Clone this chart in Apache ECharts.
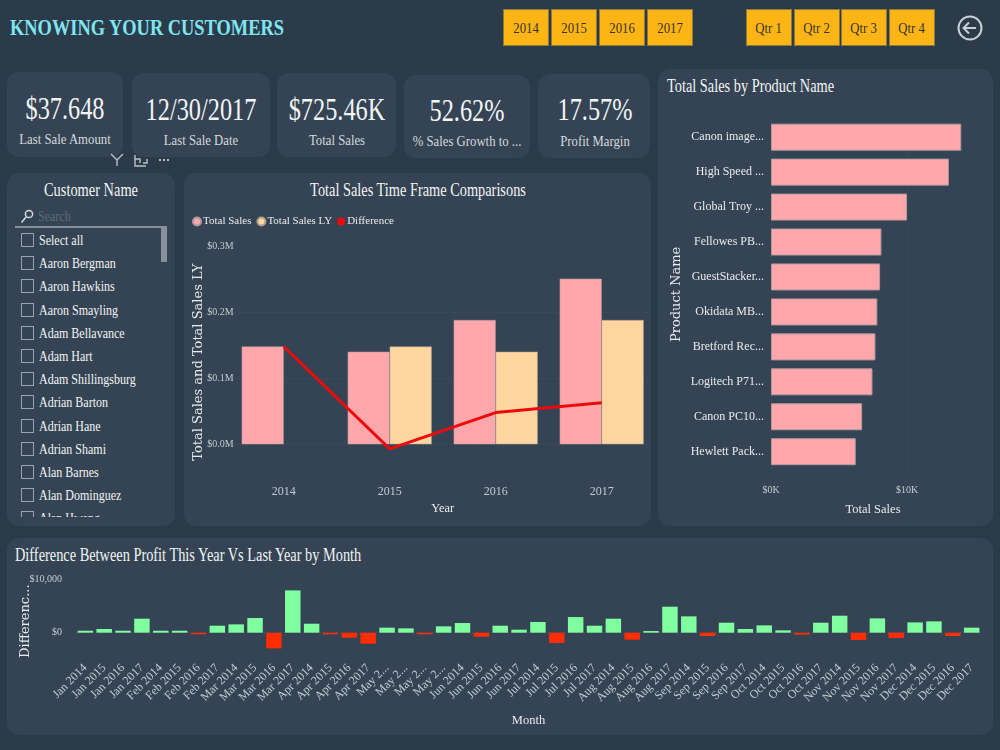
<!DOCTYPE html>
<html>
<head>
<meta charset="utf-8">
<title>Knowing Your Customers</title>
<script src="https://cdn.jsdelivr.net/npm/echarts@6/dist/echarts.min.js"></script>
<style>
html, body { margin: 0; padding: 0; }
body { width: 1000px; height: 750px; background: #2b3b4a; position: relative; overflow: hidden; font-family: "Liberation Serif", serif; color: #f2f4f5; }
.panel { position: absolute; background: #344454; border-radius: 12px; }
.txt { position: absolute; white-space: nowrap; transform: translate(-50%, -50%) scaleX(.8); }
.txt.left { transform: translate(0, -50%) scaleX(.8); transform-origin: left center; }
.txt.head { transform: translate(0, -50%) scaleX(.755); transform-origin: left center; }
.btn { position: absolute; top: 9px; height: 37px; background: #fdb515; border: 1px solid #8c7a3a; box-sizing: border-box; color: #333; font-size: 15px; line-height: 36px; text-align: center; }
.btn span { display: inline-block; transform: scaleX(.85); }
.box { position: absolute; left: 21px; width: 11px; height: 12px; border: 1.5px solid #9aa4b0; }
.chart { position: absolute; }
#list { position: absolute; left: 7px; top: 228px; width: 154px; height: 289px; overflow: hidden; }
svg { position: absolute; overflow: visible; }
</style>
</head>
<body>
<div class="panel" style="left:7px;top:72px;width:116px;height:85px"></div>
<div class="panel" style="left:132px;top:73px;width:138px;height:84px"></div>
<div class="panel" style="left:277px;top:73px;width:119px;height:84px"></div>
<div class="panel" style="left:404px;top:75px;width:126px;height:83px"></div>
<div class="panel" style="left:538px;top:74px;width:112px;height:84px"></div>
<div class="panel" style="left:658px;top:69px;width:335px;height:457px"></div>
<div class="panel" style="left:7px;top:173px;width:168px;height:353px"></div>
<div class="panel" style="left:184px;top:173px;width:467px;height:353px"></div>
<div class="panel" style="left:7px;top:538px;width:986px;height:197px"></div>

<div class="txt left" style="left:10px;top:28px;font-size:23px;font-weight:bold;color:#7fe5f0;transform-origin:left center">KNOWING YOUR CUSTOMERS</div>
<div id="buttons"></div>
<svg style="left:956px;top:14px" width="28" height="28" viewBox="0 0 28 28" fill="none" stroke="#c9d0d6" stroke-width="2">
  <circle cx="14" cy="14" r="11.5"></circle>
  <path d="M20 14H8M13 8.5L7.5 14L13 19.5"></path>
</svg>
<div id="kpis"></div>

<svg style="left:110px;top:153px" width="62" height="14" viewBox="0 0 62 14" fill="none" stroke="#b9c1c8" stroke-width="1.4">
  <path d="M1 1L7 7V13M13 1L7 7"></path>
  <path d="M25 2V13H36M25 6H30V10M33 10H37V6"></path>
  <path d="M49 7h2M53 7h2M57 7h2" stroke-width="2"></path>
</svg>
<div class="txt" style="left:91px;top:190px;font-size:18px">Customer Name</div>
<svg style="left:20px;top:208px" width="14" height="16" viewBox="0 0 14 16" fill="none" stroke="#d5dade" stroke-width="1.5">
  <circle cx="9" cy="6" r="3.6"></circle>
  <path d="M6 9L1.5 14.5"></path>
</svg>
<div class="txt left" style="left:38px;top:216px;font-size:15px;color:#5d6b78">Search</div>
<div style="position:absolute;left:15px;top:226px;width:152px;height:1.5px;background:#87919b"></div>
<div style="position:absolute;left:161px;top:227px;width:6px;height:35px;background:#87919b"></div>
<div id="list"></div>

<div class="txt" style="left:418px;top:190px;font-size:19px;transform:translate(-50%,-50%) scaleX(.755)">Total Sales Time Frame Comparisons</div>
<div class="txt head" style="left:667px;top:86px;font-size:19px">Total Sales by Product Name</div>
<div class="txt head" style="left:15px;top:555px;font-size:19px">Difference Between Profit This Year Vs Last Year by Month</div>

<div class="chart" id="container1" style="left:184px;top:173px;width:467px;height:353px"></div>
<div class="chart" id="container2" style="left:658px;top:69px;width:335px;height:457px"></div>
<div class="chart" id="container3" style="left:7px;top:538px;width:986px;height:197px"></div>

<script>
const yearButtons = ['2014', '2015', '2016', '2017']
const yearButtonX = [503, 551, 599, 647]
const qtrButtons = ['Qtr 1', 'Qtr 2', 'Qtr 3', 'Qtr 4']
const qtrButtonX = [746, 794, 841, 889]

const kpiValues = ['$37.648', '12/30/2017', '$725.46K', '52.62%', '17.57%']
const kpiLabels = ['Last Sale Amount', 'Last Sale Date', 'Total Sales', '% Sales Growth to ...', 'Profit Margin']
const kpiCenters = [65, 201, 337, 467, 595]
const kpiValueY = [108, 109, 109, 110, 109]
const kpiLabelY = [139, 140, 140, 141, 141]

const customers = ['Select all', 'Aaron Bergman', 'Aaron Hawkins', 'Aaron Smayling', 'Adam Bellavance', 'Adam Hart',
  'Adam Shillingsburg', 'Adrian Barton', 'Adrian Hane', 'Adrian Shami', 'Alan Barnes', 'Alan Dominguez', 'Alan Hwang']

// total sales by year, in $M
const years = ['2014', '2015', '2016', '2017']
const totalSales = [0.148, 0.140, 0.188, 0.2505]
const totalSalesLY = [null, 0.148, 0.140, 0.188]
const difference = [0.148, -0.007, 0.048, 0.063]

// top products, in $K
const products = ['Canon image...', 'High Speed ...', 'Global Troy ...', 'Fellowes PB...', 'GuestStacker...',
  'Okidata MB...', 'Bretford Rec...', 'Logitech P71...', 'Canon PC10...', 'Hewlett Pack...']
const productSales = [13.99, 13.08, 10.0, 8.12, 8.02, 7.82, 7.68, 7.46, 6.70, 6.23]

const months = ['Jan', 'Feb', 'Mar', 'Apr', 'May', 'Jun', 'Jul', 'Aug', 'Sep', 'Oct', 'Nov', 'Dec']
const monthLabels = months.flatMap(m => years.map(y => m + ' ' + y))
const monthDiff = [370, 690, 370, 2620, 370, 370, -310, 1310, 1560, 2750, -2930, 7920,
  1680, -310, -940, -2060, 940, 810, -310, 1190, 1810, -750, 1310, 560,
  2000, -1930, 2930, 1310, 2620, -1310, 310, 4870, 3060, -620, 1870, 690,
  1370, 440, -370, 1870, 3180, -1370, 2680, -1000, 1930, 2120, -620, 940]

const tickColor = '#c3cad0'
const nameColor = '#e8ebee'
const gridLine = { show: true, showMinLine: false, showMaxLine: false, lineStyle: { color: 'rgba(255,255,255,0.1)', type: [1, 3] } }
const serif = 'Liberation Serif'

function makeButtons() {
  let html = ''
  yearButtons.forEach((b, i) => {
    html += `<div class="btn" style="left:${yearButtonX[i]}px;width:46px"><span>${b}</span></div>`
  })
  qtrButtons.forEach((b, i) => {
    html += `<div class="btn" style="left:${qtrButtonX[i]}px;width:46px"><span>${b}</span></div>`
  })
  document.getElementById('buttons').innerHTML = html
}

function makeKpis() {
  let html = ''
  kpiValues.forEach((v, i) => {
    html += `<div class="txt" style="left:${kpiCenters[i]}px;top:${kpiValueY[i]}px;font-size:32px;transform:translate(-50%,-50%) scaleX(.76)">${v}</div>`
    html += `<div class="txt" style="left:${kpiCenters[i]}px;top:${kpiLabelY[i]}px;font-size:15px;color:#d5dade;transform:translate(-50%,-50%) scaleX(.85)">${kpiLabels[i]}</div>`
  })
  document.getElementById('kpis').innerHTML = html
}

function makeList() {
  let html = ''
  customers.forEach((c, i) => {
    let y = 12 + i * 23.2
    html += `<div class="box" style="left:14px;top:${y - 7}px"></div>`
    html += `<div class="txt left" style="left:32px;top:${y}px;font-size:15px">${c}</div>`
  })
  document.getElementById('list').innerHTML = html
}

function initYearChart() {
  var myChart = echarts.init(document.getElementById('container1'));
  myChart.setOption({
    textStyle: { fontFamily: serif },
    legend: {
      left: 3,
      top: 38,
      icon: 'circle',
      itemWidth: 8,
      itemHeight: 8,
      itemGap: 5,
      textStyle: { color: nameColor, fontSize: 11, fontFamily: serif, padding: [0, 0, 0, -3] },
      data: ['Total Sales', 'Total Sales LY', 'Difference']
    },
    grid: { left: 46.7, top: 73, width: 424, height: 264.4, outerBoundsMode: 'none' },
    xAxis: {
      type: 'category',
      data: years,
      name: 'Year',
      nameLocation: 'middle',
      nameGap: -8,
      nameMoveOverlap: false,
      nameTextStyle: { color: nameColor, fontSize: 12.5, fontFamily: serif },
      axisLine: { show: false },
      axisTick: { show: false },
      axisLabel: { color: tickColor, fontSize: 12, margin: -25, fontFamily: serif }
    },
    yAxis: {
      type: 'value',
      min: -0.1,
      max: 0.3,
      interval: 0.1,
      name: 'Total Sales and Total Sales LY',
      nameLocation: 'middle',
      nameGap: 26,
      nameMoveOverlap: false,
      nameTextStyle: { color: nameColor, fontSize: 13, fontFamily: 'DejaVu Serif', padding: [0, 0, 0, 32] },
      axisLabel: {
        color: tickColor,
        fontSize: 10,
        margin: -3,
        showMinLabel: false,
        fontFamily: serif,
        formatter: v => '$' + v.toFixed(1) + 'M'
      },
      splitLine: gridLine
    },
    series: [
      {
        name: 'Total Sales',
        type: 'bar',
        data: totalSales,
        barGap: 0,
        barCategoryGap: '20.75%',
        itemStyle: { color: '#ffa7ab', borderColor: '#b09aa0', borderWidth: 0.5 }
      },
      {
        name: 'Total Sales LY',
        type: 'bar',
        data: totalSalesLY,
        itemStyle: { color: '#ffd5a0', borderColor: '#b0a08c', borderWidth: 0.5 }
      },
      {
        name: 'Difference',
        type: 'line',
        data: difference,
        symbol: 'none',
        lineStyle: { color: '#ee0a0a', width: 3 },
        itemStyle: { color: '#ee0a0a' }
      }
    ]
  });
}

function initProductChart() {
  var myChart = echarts.init(document.getElementById('container2'));
  myChart.setOption({
    textStyle: { fontFamily: serif },
    grid: { left: 113, top: 50.7, width: 204, height: 349.5, outerBoundsMode: 'none' },
    xAxis: {
      type: 'value',
      min: 0,
      max: 15,
      interval: 10,
      name: 'Total Sales',
      nameLocation: 'middle',
      nameGap: 34,
      nameMoveOverlap: false,
      nameTextStyle: { color: nameColor, fontSize: 12.5, fontFamily: serif },
      axisLabel: { color: tickColor, fontSize: 10, margin: 16, showMaxLabel: false, fontFamily: serif, formatter: v => '$' + v + 'K' },
      splitLine: { show: true, showMaxLine: false, lineStyle: gridLine.lineStyle }
    },
    yAxis: {
      type: 'category',
      inverse: true,
      data: products,
      name: 'Product Name',
      nameLocation: 'middle',
      nameGap: 88,
      nameMoveOverlap: false,
      nameTextStyle: { color: nameColor, fontSize: 13, fontFamily: 'DejaVu Serif' },
      axisLine: { show: false },
      axisTick: { show: false },
      axisLabel: { color: nameColor, fontSize: 12, margin: 7, interval: 0, fontFamily: serif }
    },
    series: [
      {
        name: 'Total Sales',
        type: 'bar',
        data: productSales,
        barCategoryGap: '22.7%',
        itemStyle: { color: '#ffa7ab', borderColor: '#b09aa0', borderWidth: 1 }
      }
    ]
  });
}

function initMonthChart() {
  var myChart = echarts.init(document.getElementById('container3'));
  myChart.setOption({
    textStyle: { fontFamily: serif },
    grid: { left: 68.9, top: 41.3, width: 905.2, height: 106.8, outerBoundsMode: 'none' },
    xAxis: {
      type: 'category',
      data: monthLabels,
      name: 'Month',
      nameLocation: 'middle',
      nameGap: 28,
      nameMoveOverlap: false,
      nameTextStyle: { color: nameColor, fontSize: 12.5, fontFamily: serif },
      axisLine: { show: false },
      axisTick: { show: false },
      axisLabel: {
        color: tickColor,
        fontSize: 12,
        rotate: 45,
        interval: 0,
        margin: -20,
        fontFamily: serif,
        formatter: v => v.startsWith('May') ? 'May 2...' : v
      }
    },
    yAxis: {
      type: 'value',
      min: -10000,
      max: 10000,
      interval: 10000,
      name: 'Differenc...',
      nameLocation: 'middle',
      nameGap: 44,
      nameMoveOverlap: false,
      nameTextStyle: { color: nameColor, fontSize: 13, fontFamily: 'DejaVu Serif', padding: [0, 0, 0, 23] },
      axisLabel: {
        color: tickColor,
        fontSize: 10,
        margin: 14,
        showMinLabel: false,
        fontFamily: serif,
        formatter: v => v === 0 ? '$0' : '$' + v.toLocaleString('en-US')
      },
      splitLine: gridLine
    },
    series: [
      {
        name: 'Difference',
        type: 'bar',
        data: monthDiff,
        barCategoryGap: '18%',
        itemStyle: { color: p => p.value >= 0 ? '#80ffa0' : '#ff2d00' }
      }
    ]
  });
}

makeButtons()
makeKpis()
makeList()
initYearChart()
initProductChart()
initMonthChart()
</script>
</body>
</html>
